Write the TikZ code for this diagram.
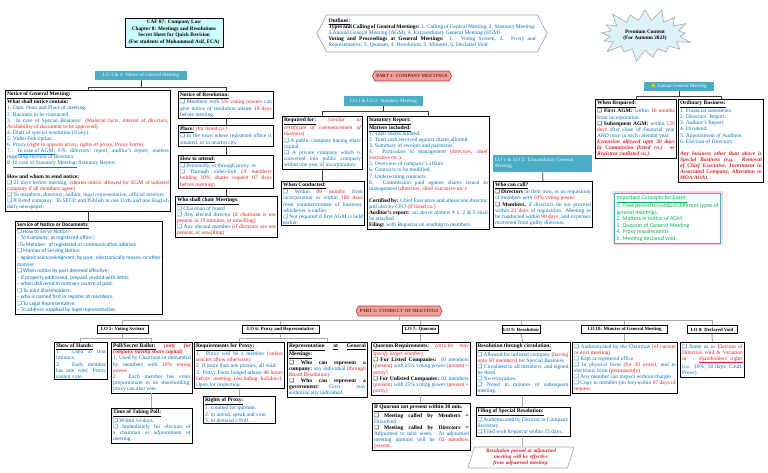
\documentclass[tikz,border=0pt]{standalone}
\usepackage{fontspec}
\setmainfont{Liberation Serif}
\newfontfamily\symfont{DejaVu Sans}
\newfontfamily\calfont{Carlito}
\usetikzlibrary{shapes.symbols,shapes.geometric}
\hyphenpenalty=10000
\exhyphenpenalty=10000
\tolerance=9999
\emergencystretch=6pt
\definecolor{cfBlue}  {RGB}{  0,112,192}
\definecolor{cfRed}   {RGB}{228, 30, 36}
\definecolor{cfRedD}  {RGB}{192, 60, 60}
\definecolor{cfGreen} {RGB}{  0,176, 80}
\definecolor{cfTeal}  {RGB}{ 75,172,198}
\definecolor{cfCyan}  {RGB}{204,255,255}
\definecolor{cfCyanL} {RGB}{221,243,249}
\definecolor{cfSalmon}{RGB}{242,160,155}
\definecolor{cfGray}  {RGB}{170,170,170}
\definecolor{cfDark}  {RGB}{ 60, 60, 60}
\definecolor{cfPink}  {RGB}{242,220,219}
\definecolor{cfOrange}{RGB}{255,192,  0}
\newcommand{\hd}[1]{\textbf{\underline{#1}}}
\newcommand{\bl}[1]{\textcolor{cfBlue}{#1}}
\newcommand{\rd}[1]{\textcolor{cfRed}{#1}}
\newcommand{\rdit}[1]{\textcolor{cfRed}{\textit{#1}}}
\newcommand{\rdbi}[1]{\textcolor{cfRed}{\textbf{\textit{#1}}}}
\newcommand{\bx}{{\symfont ❑}\ }
\begin{document}
\begin{tikzpicture}[x=1pt,y=-1pt,
  every node/.style={font=\fontsize{5.5}{6.05}\selectfont},
  box/.style={draw,line width=0.8pt,fill=white,anchor=north west,align=justify,
              inner sep=1.6pt,text width=#1},
  lobox/.style={fill=cfTeal,text=white,inner sep=1pt,minimum height=9.5pt,
                font=\fontsize{5}{5.8}\selectfont},
  lobw/.style={draw,line width=0.9pt,fill=white,inner sep=1pt,minimum height=8pt,
               font=\bfseries\fontsize{4.8}{5}\selectfont},
  partbox/.style={signal,signal to=west and east,signal pointer angle=130,
                  fill=cfSalmon,draw=cfRedD,line width=0.6pt,text=cfRedD!60!black,
                  inner sep=1pt,minimum height=10pt,font=\bfseries\fontsize{4.8}{5}\selectfont},
  link/.style={draw=cfDark,line width=0.8pt},
  glink/.style={draw=cfGray,line width=1pt}
]
\path[fill=white] (0,0) rectangle (768,473);
\useasboundingbox (0,0) rectangle (768,473);
% header
\node[draw,line width=0.8pt,fill=cfCyan,align=center,minimum width=98pt,
      minimum height=29pt,inner sep=1pt,font=\bfseries\fontsize{5.3}{6.6}\selectfont]
  (title) at (174,32.5)
  {CAF 07: Company Law\\Chapter 8: Meetings and Resolutions\\Secret Sheet for Quick Revision\\(For students of Muhammad Asif, FCA)};
\node[signal,signal to=west and east,signal pointer angle=125,draw=cfGray,line width=0.8pt,
      fill=white,text width=207pt,align=justify,inner sep=2pt,minimum height=37pt]
  (outline) at (432,33.5)
  {\hd{Outlines:}\\
   \textbf{Types and Calling of General Meetings:} \bl{1. Calling of General Meeting, 2. Statutory Meeting, 3.Annual General Meeting (AGM), 4. Extraordinary General Meeting (EGM)}\\
   \textbf{Voting and Proceedings at General Meetings:} \bl{1. Voting System, 2. Proxy and Representative, 3. Quorum, 4. Resolution, 5. Minutes, 6. Declared Void}};
\node[starburst,starburst points=17,starburst point height=14pt,fill=cfCyanL,draw=cfGray,
      line width=0.6pt,minimum width=72pt,minimum height=58pt,align=center,
      font=\bfseries\fontsize{5.2}{6.4}\selectfont]
  (premium) at (645,35) {Premium Content\\(For Autumn 2023)};
% part 1
\node[partbox,minimum width=79pt] (part1) at (412,76) {PART 1: COMPANY MEETINGS};
\node[lobox,minimum width=92pt] (lo34) at (141,75.5) {LO 3 \& 4: Notice of General Meeting};
\node[box=161.8pt] (ngm) at (5,90)
  {\hd{Notice of General Meeting:}\\
   \textbf{What shall notice contain:}\\
   \bl{1. Date, Hour and Place of meeting.}\\
   \bl{2. Business to be transacted.}\\
   \bl{3. In case of Special Business:} \rd{(Material facts, interest of directors, Availability of document to be approved).}\\
   \bl{4. Draft of special resolution (if any).}\\
   \bl{5. Video-link option.}\\
   \bl{6. Proxy} \rd{(right to appoint proxy, rights of proxy, Proxy Form).}\\
   \bl{7. \underline{In case of AGM:} F/S, directors' report, auditor's report, matters regarding election of directors.}\\
   \bl{8. \underline{In case of Statutory Meeting:} Statutory Report.}\\[6pt]
   \textbf{How and whom to send notice:}\\
   \bl{\bx 21 days before meeting,} \rd{(shorter notice allowed for EGM of unlisted company if all members agree)}\\
   \bl{\bx To members, directors, auditor, legal representative, official receiver,}\\
   \bl{\bx If listed company: To SECP, and Publish in one Urdu and one English daily newspaper.}};
\node[box=143.8pt,font=\calfont\fontsize{5.4}{6.55}\selectfont] (sond) at (15,221)
  {\hd{Service of Notice or Documents:}\\
   \bl{\bx How to Serve Notice:}\\
   \bl{– To Company: at registered office )}\\
   \bl{–To Member:\ \ at registered or communication address}\\
   \bl{\bx Manner of Serving Notice:}\\
   \bl{– against acknowledgment, by post , electronically means, or other manner.}\\
   \bl{\bx When notice by post deemed effective:}\\
   \bl{– If properly addressed, prepaid, posted with letter.}\\
   \bl{– when delivered in ordinary course of post.}\\
   \bl{\bx To Joint Shareholders:}\\
   \bl{– who is named first in register of members.}\\
   \bl{\bx To Legal Representative:}\\
   \bl{– To address supplied by legal representative.}};
\node[box=91.8pt] (nres) at (178,91)
  {\hd{Notice of Resolution:}\\
   \bl{\bx Members with} \rd{5\% voting powers} \bl{can give notice of resolution atleast} \rd{10 days} \bl{before meeting.}};
\node[box=91.8pt] (place) at (178,125)
  {\hd{Place:} \rd{(for listed co.)}\\
   \bl{\bx In the town where registered office is situated, or in nearest city.}};
\node[box=91.8pt] (attend) at (178,155)
  {\hd{How to attend:}\\
   \bl{\bx Personally, or through proxy, or}\\
   \bl{\bx Through video-link} \rd{(if members holding 10\% shares request 07 days before meeting)}};
\node[box=98.8pt] (chair) at (175,196)
  {\hd{Who shall chair Meetings:}\\
   \bl{\bx Chairman of board}\\
   \bl{\bx Any elected director} \rd{(if chairman is not present in 15 minutes, or unwilling)}\\
   \bl{\bx Any elected member} \rd{(if directors are not present, or unwilling)}};
\node[lobox,minimum width=79pt] (lo12s) at (383.5,101) {LO 1 \& LO 2: Statutory Meeting};
\node[box=76.8pt] (req) at (282,116)
  {\hd{Required for:} \rdit{(similar to certificate of commencement of business)}\\
   \bl{\bx A public company having share capital.}\\
   \bl{\bx A private company which is converted into public company within one year of incorporation.}};
\node[box=79.8pt] (conducted) at (281,181)
  {\hd{When Conducted:}\\
   \bl{\bx Within} \rd{09 months} \bl{from incorporation or within} \rd{180 days} \bl{from commencement of business, whichever is earlier.}\\
   \bl{\bx Not required if first AGM is held earlier.}};
\node[box=118.8pt] (sreport) at (367,116)
  {\hd{Statutory Report:}\\
   \hd{Matters included:}\\
   \bl{1. Total shares allotted.}\\
   \bl{2. Total cash received against shares allotted.}\\
   \bl{3. Summary of receipts and payments.}\\
   \bl{4. Particulars of management} \rd{(directors, chief executive etc.).}\\
   \bl{5. Overview of company's affairs.}\\
   \bl{6. Contracts to be modified.}\\
   \bl{7. Underwriting contracts.}\\
   \bl{8. Commission paid against shares issued to management} \rd{(directors, chief executive etc.)}\\[6pt]
   \textbf{Certified by:} \bl{Chief Executive and atleast one director, and also by CFO} \rd{(if listed co.)}\\
   \textbf{Auditor's report:} \bl{on above matters \# 1, 2 \& 3 shall be attached.}\\
   \textbf{Filing:} \bl{with Registrar on sending to members}};
\node[lobox,anchor=north west,minimum width=99pt,minimum height=17pt,text width=95pt,
      align=left] (lo12e) at (493,155) {LO 1 \& LO 2: Extraordinary General\\Meeting};
\node[box=95.8pt] (whocall) at (493,181)
  {\hd{Who can call?}\\
   \bx\textbf{Directors} \bl{on their own, or on requisition of members with} \rd{10\% voting power.}\\
   \bx\textbf{Members,} \bl{if directors do not proceed within} \rd{21 days} \bl{of requisition. Meeting to be conducted within} \rd{90 days}\bl{, and expenses recovered from guilty directors.}};
\node[lobox,minimum width=70pt] (agm) at (679,86.5)
  {{\symfont\textcolor{cfOrange}{●}} Annual General Meeting};
\node[box=77.8pt] (whenreq) at (595,99)
  {\hd{When Required:}\\
   \bx\textbf{First AGM:} \bl{within} \rd{16 months} \bl{from incorporation.}\\
   \bx\textbf{Subsequent AGM:} \bl{within} \rd{120 days} \bl{after close of financial year AND once in each calendar year.}\\
   \rdbi{Extension allowed upto 30 days by Commission (listed co.) or Registrar (unlisted co.).}};
\node[box=81.8pt] (ordinary) at (678,99)
  {\hd{Ordinary Business:}\\
   \bl{1. Financial statements.}\\
   \bl{2. Directors' Report.}\\
   \bl{3. Auditor's Report.}\\
   \bl{4. Dividend.}\\
   \bl{5. Appointment of Auditors.}\\
   \bl{6. Election of Directors.}\\[6pt]
   \rdbi{Any business other than above is Special Business (e.g. Removal of Chief Executive, Investment in Associated Company, Alteration in MOA/AOA).}};
\node[box=102pt,draw=cfTeal,line width=1pt,preaction={draw=cfPink,line width=4pt},
      text=cfGreen,inner sep=2pt,font=\calfont\fontsize{5.8}{6.6}\selectfont]
  (concepts) at (614,193)
  {\underline{Important Concepts for Exam:}\\
   1. Time period to conduct different types of general meetings.\\
   2. Matters in notice of AGM.\\
   3. Quorum of General Meeting\\
   4. Proxy requirements\\
   5. Meeting declared void.};
% part 2
\node[partbox,minimum width=86pt] (part2) at (399,311) {PART 2: CONDUCT OF MEETINGS};
\node[lobw,minimum width=51pt] (lo5)  at (122.5,329.5) {LO 5: Voting System};
\node[lobw,minimum width=77pt] (lo6)  at (280.5,329.5) {LO 6: Proxy and Representative};
\node[lobw,minimum width=36pt] (lo7)  at (420.5,329.5) {LO 7: Quorum};
\node[lobw,minimum width=38pt] (lo9)  at (521,329.5)   {LO 9: Resolution};
\node[lobw,minimum width=86pt] (lo10) at (624.5,329.5) {LO 10: Minutes of General Meeting};
\node[lobw,minimum width=50pt] (lo8)  at (712,329.5)   {LO 8: Declared Void};
\node[box=49.8pt] (hands) at (54,342)
  {\hd{Show of Hands:}\\
   \bl{1. Used at first instance.}\\
   \bl{2. Each member has one vote; Proxy cannot vote.}};
\node[box=77.8pt] (poll) at (111,342)
  {\hd{Poll/Secret Ballot:} \rdbi{(only for company having share capital)}\\
   \bl{1. Used by Chairman or demanded by members with} \rd{10\% voting power.}\\
   \bl{2. Each member has votes proportionate to its shareholding; proxy can also vote.}};
\node[box=77.8pt] (tpoll) at (111,408)
  {\hd{Time of Taking Poll:}\\
   \bl{\bx Within 14 days,}\\
   \bl{\bx Immediately for election of a chairman or adjournment of meeting.}};
\node[box=86.8pt] (reqproxy) at (194,342)
  {\hd{Requirements for Proxy:}\\
   \bl{1. Proxy will be a member} \rd{(unless articles allow otherwise).}\\
   \bl{2. If more than one proxies, all void.}\\
   \bl{3. Proxy Form lodged atleast} \rd{48 hours before meeting (excluding holidays).} \bl{Open for inspection.}};
\node[box=76.8pt] (repr) at (287,342)
  {\hd{Representation} \hd{at} \hd{General} \hd{Meetings:}\\
   \bx\textbf{Who can represent a company:} \bl{any individual} \rd{(through Board Resolution).}\\
   \bx\textbf{Who can represent a government:} \bl{Govt. may authorize any individual}};
\node[box=68.8pt] (rights) at (203,396)
  {\hd{Rights of Proxy:}\\
   \bl{1. counted for quorum.}\\
   \bl{2. to attend, speak and vote.}\\
   \bl{3. to demand a Poll.}};
\node[box=95.8pt] (quorum) at (371,342)
  {\hd{Quorum Requirements:} \rdit{(articles may specify larger number)}\\
   \bx\textbf{For Listed Companies:} \bl{10 members} \rd{(present)} \bl{with 25\% voting power} \rd{(present + proxy)}\\
   \bx\textbf{For Unlisted Companies:} \bl{02 members} \rd{(present)} \bl{with 25\% voting power} \rd{(present + proxy)}};
\node[box=94.8pt] (noquorum) at (372,403)
  {\hd{If Quorum not present within 30 min.}\\
   \bx\textbf{Meeting called by Members =} \bl{Dissolved}\\
   \bx\textbf{Meeting called by Directors =} \bl{Adjourned to next week. At adjourned meeting quorum will be} \rd{02 members present.}};
\node[box=90.8pt] (circ) at (475.5,342)
  {\hd{Resolution through circulation:}\\
   \bl{\bx Allowed for unlisted company} \rd{(having upto 50 members)} \bl{for Special Business.}\\
   \bl{\bx Circulated to all members, and signed by them.}\\
   \bl{\bx No revocation.}\\
   \bl{\bx Noted in minutes of subsequent meeting.}};
\node[box=90.8pt] (filing) at (475.5,407)
  {\hd{Filing of Special Resolution:}\\
   \bl{\bx Authenticated by Director or Company Secretary.}\\
   \bl{\bx Filed with Registrar within 15 days.}};
\node[trapezium,trapezium left angle=72,trapezium right angle=108,draw=cfGray,
      line width=0.6pt,fill=white,text width=82pt,align=center,inner sep=1pt,
      minimum height=21pt,font=\bfseries\itshape\fontsize{5.3}{6.1}\selectfont,text=cfRed]
  (adjnote) at (521,457.5)
  {Resolution passed at adjourned meeting will be effective from adjourned meeting.};
\node[box=101.8pt] (minutes) at (572,342)
  {\bl{\bx Authenticated by the Chairman} \rd{(of current or next meeting).}\\
   \bl{\bx Kept at registered office}\\
   \bl{\bx In physical form} \rd{(for 20 years)}\bl{, and in electronic form} \rd{(permanently)}\\
   \bl{\bx Any member can inspect without charges.}\\
   \bl{\bx Copy to member (on fee) within} \rd{07 days of request.}};
\node[box=60.8pt] (void) at (680,342)
  {\bl{\bx Same as in} \rd{Election of Directors void \& Variation in \underline{shareholders' rights}} \bl{(i.e. 10\%, 30 days, Court, Prove)}};
% connectors, part 1
\coordinate (bar34) at (141,87);
\draw[link] (lo34.south) -- (bar34);
\draw[link] (ngm.north) |- (bar34);
\draw[link] (nres.north) |- (bar34);
\draw[link] (nres.south) -- (place.north);
\draw[link] (place.south) -- (attend.north);
\draw[link] (attend.south) -- (attend.south |- chair.north);
\draw[link] (ngm.south) -- (ngm.south |- sond.north);
\coordinate (bar12s) at (383.5,111);
\draw[link] (lo12s.south) -- (bar12s);
\draw[link] (req.north) |- (bar12s);
\draw[link] (sreport.north) |- (bar12s);
\draw[link] (req.south) -- (req.south |- conducted.north);
\draw[link] (lo12e.south) -- (whocall.north);
\coordinate (baragm) at (679,96);
\draw[link] (agm.south) -- (baragm);
\draw[link] (whenreq.north) |- (baragm);
\draw[link] (ordinary.north) |- (baragm);
% connectors, part 2
\coordinate (bar2) at (399,320);
\draw[glink] (part2.south) -- (bar2);
\foreach \lo in {lo5,lo6,lo7,lo9,lo10,lo8}
  \draw[glink] (\lo.north) |- (bar2);
\coordinate (bar5) at (122.5,338);
\draw[glink] (lo5.south) -- (bar5);
\draw[glink] (hands.north) |- (bar5);
\draw[glink] (poll.north) |- (bar5);
\draw[glink] (poll.south) -- (tpoll.north);
\coordinate (bar6) at (280.5,338);
\draw[glink] (lo6.south) -- (bar6);
\draw[glink] (reqproxy.north) |- (bar6);
\draw[glink] (repr.north) |- (bar6);
\draw[glink] (reqproxy.south) -- (reqproxy.south |- rights.north);
\draw[glink] (lo7.south) -- (lo7.south |- quorum.north);
\draw[glink] (quorum.south) -- (quorum.south |- noquorum.north);
\draw[glink] (lo9.south) -- (circ.north);
\draw[glink] (circ.south) -- (filing.north);
\draw[glink] (filing.south) -- (filing.south |- adjnote.north);
\draw[glink] (lo10.south) -- (lo10.south |- minutes.north);
\draw[glink] (lo8.south) -- (void.north);
\end{tikzpicture}
\end{document}
